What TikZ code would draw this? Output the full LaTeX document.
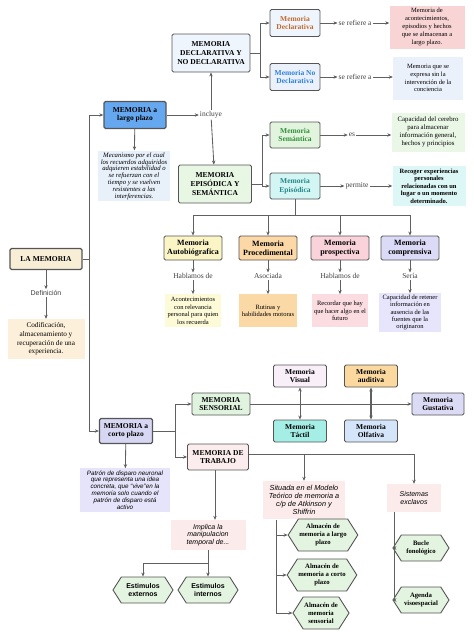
\documentclass[tikz,border=0pt]{standalone}
\usepackage{fontspec}
\setmainfont{Liberation Serif}
\setsansfont{Liberation Sans}
\usetikzlibrary{%
  arrows.meta,%
  positioning,% wg. " of "
  shapes.symbols% signal = hexagon
}

\definecolor{linegray}{HTML}{606060}
\definecolor{boxline}{HTML}{555555}
\definecolor{declfill}{HTML}{EEF5FD}
\definecolor{largofill}{HTML}{66A8F0}
\definecolor{episemfill}{HTML}{E8F6E4}
\definecolor{pinkdesc}{HTML}{F9D4D4}
\definecolor{bluedesc}{HTML}{EAF1FB}
\definecolor{semfill}{HTML}{E3F4DE}
\definecolor{greendesc}{HTML}{EAF7E6}
\definecolor{epifill}{HTML}{D3F5F3}
\definecolor{cyandesc}{HTML}{DDF6F6}
\definecolor{autofill}{HTML}{FBF5C6}
\definecolor{autodesc}{HTML}{FDFAD8}
\definecolor{procfill}{HTML}{FBD8A5}
\definecolor{procdesc}{HTML}{FBD9A6}
\definecolor{prosfill}{HTML}{FAD3DA}
\definecolor{prosdesc}{HTML}{FBDCE1}
\definecolor{compfill}{HTML}{DCDBF7}
\definecolor{compdesc}{HTML}{E6E5FB}
\definecolor{lamemfill}{HTML}{F8EDD5}
\definecolor{lamemdesc}{HTML}{FDF0DA}
\definecolor{mecfill}{HTML}{E8F0FA}
\definecolor{cortofill}{HTML}{D7D6F3}
\definecolor{patdesc}{HTML}{E5E4FA}
\definecolor{sensfill}{HTML}{DFF3DE}
\definecolor{trabfill}{HTML}{FBEDED}
\definecolor{visfill}{HTML}{F8EFF9}
\definecolor{audfill}{HTML}{FBD89E}
\definecolor{gusfill}{HTML}{DCDBF6}
\definecolor{tacfill}{HTML}{A5EEE5}
\definecolor{olffill}{HTML}{D4E5FA}
\definecolor{notefill}{HTML}{FCEBEB}
\definecolor{hexgreen}{HTML}{E3F4E0}
\definecolor{decltext}{HTML}{C26A2E}
\definecolor{nodecltext}{HTML}{2D7FD9}
\definecolor{semtext}{HTML}{2F8F3A}
\definecolor{epitext}{HTML}{23898A}

\tikzset{
  mbox/.style={draw=boxline, rounded corners=1.5pt, line width=0.9pt, align=center,
    inner sep=1.5pt, font=\bfseries\fontsize{7.5}{8.6}\selectfont},
  mainbox/.style={mbox, line width=1.3pt},
  rowbox/.style={mbox, minimum width=58pt, minimum height=24pt,
    font=\bfseries\fontsize{8}{9.2}\selectfont},
  desc/.style={align=center, inner sep=2pt, font=\fontsize{6.8}{7.9}\selectfont},
  itnote/.style={align=center, inner sep=2pt, fill=notefill,
    font=\sffamily\itshape\fontsize{7}{7.8}\selectfont},
  lbl/.style={inner sep=1pt, text=black!75, font=\fontsize{7.5}{9}\selectfont},
  hexa/.style={signal, signal to=west and east, signal pointer angle=115,
    draw=boxline, fill=hexgreen, line width=0.9pt, align=center, inner sep=1pt,
    font=\bfseries\fontsize{6.7}{7.9}\selectfont},
  conn/.style={draw=linegray, line width=0.85pt},
  >={Stealth[length=4pt,width=3.4pt]}
}

\begin{document}
\begin{tikzpicture}[x=1pt,y=-1pt]
    \useasboundingbox (0,0) rectangle (474,632);

    %la memoria
    \node[mainbox, fill=lamemfill, minimum width=72pt, minimum height=21pt] (lamem) at (46,259) {LA MEMORIA};
    \node[lbl, font=\sffamily\fontsize{7}{8}\selectfont] (defn) [below=19pt of lamem] {Definición};
    \node[desc, fill=lamemdesc, minimum width=77pt, minimum height=40pt,
      font=\fontsize{7.2}{8.6}\selectfont] (dlamem) [below=22pt of defn]
      {Codificación,\\almacenamiento y\\recuperación de una\\experiencia.};

    %largo plazo
    \node[mainbox, fill=largofill, minimum width=62pt, minimum height=27pt] (largo) at (135,115) {MEMORIA a\\largo plazo};
    \node[desc, fill=mecfill, minimum width=72pt, minimum height=50pt,
      font=\itshape\fontsize{6.7}{6.8}\selectfont] (mec) at (134,176)
      {Mecanismo por el cual\\los recuerdos adquiridos\\adquieren estabilidad o\\se refuerzan con el\\tiempo y se vuelven\\resistentes a las\\interferencias.};
    \node[lbl] (inc) at (211,115) {incluye};
    \node[mbox, fill=declfill, minimum width=78pt, minimum height=38pt] (decl) at (211,53) {MEMORIA\\DECLARATIVA Y\\NO DECLARATIVA};
    \node[mbox, fill=episemfill, minimum width=73pt, minimum height=38pt] (episem) at (215,184) {MEMORIA\\EPISÓDICA Y\\SEMÁNTICA};

    %declarativa row
    \node[mbox, fill=declfill, text=decltext, minimum width=50pt, minimum height=27pt] (mdecl) at (295,23) {Memoria\\Declarativa};
    \node[lbl] (ref1) [right=17pt of mdecl] {se refiere a};
    \node[desc, fill=pinkdesc, minimum width=75pt, minimum height=43pt,
      font=\fontsize{6.5}{7.9}\selectfont] (ddecl) at (427,27)
      {Memoria de\\acontecimientos,\\episodios y hechos\\que se almacenan a\\largo plazo.};
    \node[mbox, fill=bluedesc, text=nodecltext, minimum width=50pt, minimum height=27pt] (mnodecl) at (295,77) {Memoria No\\Declarativa};
    \node[lbl] (ref2) [right=17pt of mnodecl] {se refiere a};
    \node[desc, fill=bluedesc, minimum width=70pt, minimum height=43pt,
      font=\fontsize{6.5}{7.9}\selectfont] (dnodecl) at (428,78)
      {Memoria que se\\expresa sin la\\intervención de la\\conciencia};

    %semantica row
    \node[mbox, fill=semfill, text=semtext, minimum width=50pt, minimum height=26pt] (msem) at (295,135) {Memoria\\Semántica};
    \node[lbl] (es) at (352,135) {es};
    \node[desc, fill=greendesc, minimum width=73pt, minimum height=39pt] (dsem) at (428,132)
      {Capacidad del cerebro\\para almacenar\\información general,\\hechos y principios};

    %episodica row
    \node[mbox, fill=epifill, text=epitext, minimum width=50pt, minimum height=26pt] (mepi) at (295,186) {Memoria\\Episódica};
    \node[lbl] (perm) at (357,186) {permite};
    \node[desc, fill=cyandesc, minimum width=73pt, minimum height=40pt,
      font=\bfseries\fontsize{6.5}{7.6}\selectfont] (depi) at (429,186)
      {Recoger experiencias\\personales\\relacionadas con un\\lugar o un momento\\determinado.};
    \coordinate (jr) at (295,215);

    %tipos episodica
    \node[rowbox, fill=autofill] (auto) at (193,248) {Memoria\\Autobiógrafica};
    \node[rowbox, fill=procfill] (proc) at (268,248) {Memoria\\Procedimental};
    \node[rowbox, fill=prosfill] (pros) at (340,248) {Memoria\\prospectiva};
    \node[rowbox, fill=compfill] (comp) at (410,248) {Memoria\\comprensiva};

    \node[lbl] (hab1) [below=12pt of auto] {Hablamos de};
    \node[lbl] (asoc) [below=12pt of proc] {Asociada};
    \node[lbl] (hab2) [below=12pt of pros] {Hablamos de};
    \node[lbl] (seria) [below=12pt of comp] {Sería};

    \node[desc, fill=autodesc, minimum width=56pt, minimum height=33pt,
      font=\fontsize{6.5}{7.6}\selectfont] (dauto) [below=14pt of hab1]
      {Acontecimientos\\con relevancia\\personal para quien\\los recuerda};
    \node[desc, fill=procdesc, minimum width=58pt, minimum height=33pt,
      font=\fontsize{6.5}{7.6}\selectfont] (dproc) [below=14pt of asoc]
      {Rutinas y\\habilidades motoras};
    \node[desc, fill=prosdesc, minimum width=56pt, minimum height=33pt,
      font=\fontsize{6.5}{7.6}\selectfont] (dpros) [below=14pt of hab2]
      {Recordar que hay\\que hacer algo en el\\futuro};
    \node[desc, fill=compdesc, minimum width=62pt, minimum height=36pt,
      font=\fontsize{6.5}{7.1}\selectfont] (dcomp) [below=13pt of seria]
      {Capacidad de retener\\información en\\ausencia de las\\fuentes que la\\originaron};

    %corto plazo
    \node[mainbox, fill=cortofill, minimum width=53pt, minimum height=25pt] (corto) at (126,431) {MEMORIA a\\corto plazo};
    \node[desc, fill=patdesc, minimum width=90pt, minimum height=42pt,
      font=\sffamily\itshape\fontsize{6.3}{6.9}\selectfont] (pat) at (125,490)
      {Patrón de disparo neuronal\\que representa una idea\\concreta, que “vive”en la\\memoria solo cuando el\\patrón de disparo está\\activo};
    \coordinate (jc) at (175,431);
    \coordinate (jl) at (89,259);

    %sensorial
    \node[mbox, fill=sensfill, minimum width=58pt, minimum height=22pt] (sens) at (221,404) {MEMORIA\\SENSORIAL};
    \node[mbox, fill=visfill, minimum width=53pt, minimum height=22pt] (vis) at (300,376) {Memoria\\Visual};
    \node[mbox, fill=audfill, minimum width=53pt, minimum height=22pt] (aud) at (371,376) {Memoria\\auditiva};
    \node[mbox, fill=gusfill, minimum width=52pt, minimum height=22pt] (gus) at (438,404) {Memoria\\Gustativa};
    \node[mbox, fill=tacfill, minimum width=53pt, minimum height=22pt] (tac) at (300,431) {Memoria\\Táctil};
    \node[mbox, fill=olffill, minimum width=53pt, minimum height=22pt] (olf) at (371,431) {Memoria\\Olfativa};

    %trabajo
    \node[mbox, fill=trabfill, minimum width=61pt, minimum height=26pt] (trab) at (218,457) {MEMORIA DE\\TRABAJO};
    \node[itnote, minimum width=75pt, minimum height=30pt] (impl) at (208,535) {Implica la\\manipulacion\\temporal de...};
    \node[hexa, font=\sffamily\bfseries\fontsize{7}{8.2}\selectfont, minimum width=60pt, minimum height=26pt] (ext) at (143,590) {Estimulos\\externos};
    \node[hexa, font=\sffamily\bfseries\fontsize{7}{8.2}\selectfont, minimum width=60pt, minimum height=26pt] (int) at (208,590) {Estimulos\\internos};
    \coordinate (ji) at (208,563);

    \node[itnote, minimum width=82pt, minimum height=38pt,
      font=\sffamily\itshape\fontsize{7.3}{7.9}\selectfont] (situ) at (304,500)
      {Situada en el Modelo\\Teórico de memoria a\\c/p de Atkinson y\\Shiffrin};
    \node[hexa, minimum width=57pt, minimum height=32pt] (alp) at (323,535) {Almacén de\\memoria a largo\\plazo};
    \node[hexa, minimum width=57pt, minimum height=32pt] (acp) at (322,575) {Almacén de\\memoria a corto\\plazo};
    \node[hexa, minimum width=55pt, minimum height=32pt] (asen) at (321,613) {Almacén de\\memoria\\sensorial};
    \coordinate (js) at (276,520);

    \node[itnote, minimum width=54pt, minimum height=28pt] (sist) at (414,498) {Sistemas\\exclavos};
    \node[hexa, minimum width=56pt, minimum height=26pt] (bucle) at (421,548) {Bucle\\fonológico};
    \node[hexa, minimum width=56pt, minimum height=26pt] (agenda) at (421,600) {Agenda\\visoespacial};
    \coordinate (jx) at (394,512);

    %path la memoria
    \path[conn,->]
    (lamem) edge (defn)
    (defn) edge (dlamem);
    \draw[conn] (lamem.east) -- (jl);
    \draw[conn,->] (jl) |- (largo.west);
    \draw[conn,->] (jl) |- (corto.west);

    %path largo plazo
    \path[conn,->]
    (largo) edge (inc)
    (largo) edge (mec)
    (inc) edge (decl)
    (inc) edge (episem);

    %path declarativa
    \draw[conn] (decl.east) -- (260,53) coordinate (jd);
    \draw[conn,->] (jd) |- (mdecl.west);
    \draw[conn,->] (jd) |- (mnodecl.west);
    \path[conn,->]
    (mdecl) edge (ref1)
    (ref1) edge (ref1 -| ddecl.west)
    (mnodecl) edge (ref2)
    (ref2) edge (ref2 -| dnodecl.west);

    %path episodica y semantica
    \draw[conn] (episem.east) -- (262,184) coordinate (je);
    \draw[conn,->] (je) |- (msem.west);
    \draw[conn,->] (je) |- (mepi.west);
    \path[conn,->]
    (msem) edge (es)
    (es) edge (es -| dsem.west)
    (mepi) edge (perm)
    (perm) edge (perm -| depi.west);

    %path tipos
    \draw[conn] (mepi) -- (jr);
    \draw[conn] (auto |- jr) -- (comp |- jr);
    \foreach \t/\l/\d in {auto/hab1/dauto, proc/asoc/dproc, pros/hab2/dpros, comp/seria/dcomp}{
      \draw[conn,->] (\t |- jr) -- (\t.north);
      \draw[conn,->] (\t) -- (\l);
      \draw[conn,->] (\l) -- (\d);
    }

    %path corto plazo
    \draw[conn,->] (corto) -- (pat);
    \draw[conn] (corto.east) -- (jc);
    \draw[conn,->] (jc) |- (sens.west);
    \draw[conn,->] (jc) |- (trab.west);

    %path sensorial
    \draw[conn,->] (sens) -- (gus);
    \draw[conn,<->] (vis) -- (tac);
    \draw[conn,<->,line width=1.3pt] (aud) -- (olf);

    %path trabajo
    \draw[conn,->] ([yshift=3pt]trab.east) -| (sist.north);
    \draw[conn,->] ([yshift=3pt]trab.east -| situ.north) -- (situ.north);
    \draw[conn,->] ([xshift=-3pt]trab.south) -- ([xshift=-3pt]trab.south |- impl.north);
    \draw[conn] (impl) -- (ji);
    \draw[conn,->] (ji) -| (ext.north);
    \draw[conn,->] (ji) -- (int.north);

    %path modelo y sistemas
    \foreach \h in {alp,acp,asen}
      \draw[conn,->] (js) |- (\h.west);
    \foreach \h in {bucle,agenda}
      \draw[conn,->] (jx) |- (\h.west);

\end{tikzpicture}
\end{document}
